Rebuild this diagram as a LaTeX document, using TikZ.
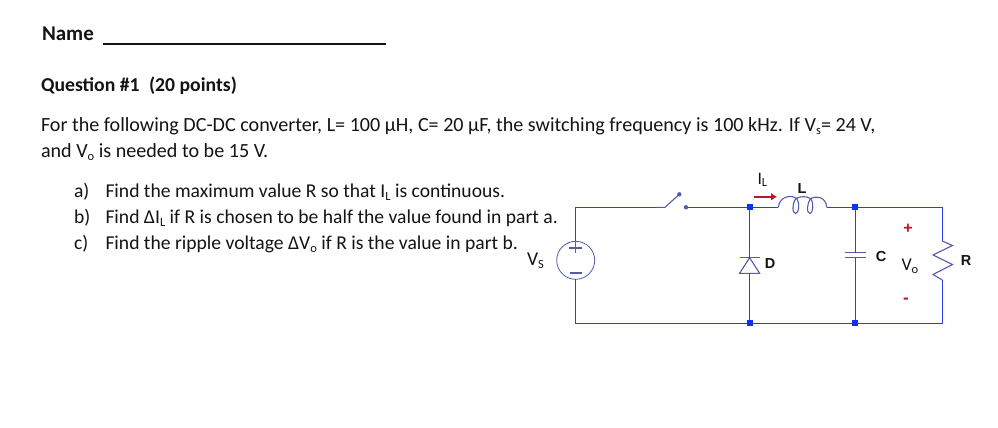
\documentclass[tikz,border=0pt]{standalone}
\usepackage{fontspec}
\setmainfont{Carlito}
\setsansfont{Liberation Sans}
\usetikzlibrary{arrows.meta}
\definecolor{wire}{RGB}{40,60,235}
\definecolor{comp}{RGB}{85,90,175}
\definecolor{jn}{RGB}{10,50,245}
\definecolor{redc}{RGB}{190,20,40}
\definecolor{txt}{RGB}{20,20,20}
\newcommand{\lsub}[1]{\raisebox{-0.17em}{\fontsize{12.5}{13}\selectfont #1}}
\tikzset{
  x=1pt,y=-1pt,
  every node/.style={inner sep=0pt,outer sep=0pt,text=txt},
  para/.style={anchor=base west,font=\fontsize{20.1}{22}\selectfont},
  parb/.style={anchor=base west,font=\fontsize{19.6}{22}\selectfont},
  parab/.style={anchor=base west,font=\fontsize{19.7}{22}\selectfont\bfseries},
  wireline/.style={draw=wire,line width=1.2pt},
  compline/.style={draw=comp,line width=1.1pt},
  junction/.style={fill=jn,minimum size=6pt,shape=rectangle},
  cmark/.style={font=\fontsize{14.5}{15}\selectfont\sffamily\bfseries,anchor=center},
}
\begin{document}
\begin{tikzpicture}
\useasboundingbox (0,0) rectangle (998,428);
\fill[white] (0,0) rectangle (998,428);
% text
\node[parab,font=\fontsize{21}{22}\selectfont\bfseries] (name) at (42,41) {Name};
\node[parab] (nameline) at (103,41) {\rule[-4pt]{283pt}{2pt}};
\node[parab] (q) at (41,92) {Question \#1\hspace{5pt} (20 points)};
\node[para] (p1) at (41,131) {For the following DC-DC converter, L= 100 µH, C= 20 µF, the switching frequency is 100 kHz. If V\lsub{s}= 24 V,};
\node[para] (p2) at (41,157) {and V\lsub{o} is needed to be 15 V.};
\node[parb] (la) at (74,197) {a)};
\node[parb] (ta) at (105.5,197) {Find the maximum value R so that I\lsub{L} is continuous.};
\node[parb] (lb) at (74,223) {b)};
\node[parb] (tb) at (105.5,223) {Find ΔI\lsub{L} if R is chosen to be half the value found in part a.};
\node[parb] (lc) at (74,249) {c)};
\node[parb] (tc) at (105.5,249) {Find the ripple voltage ΔV\lsub{o} if R is the value in part b.};
\node[parb] (vs) at (527,265) {V\lsub{S}};
% junctions
\node[junction] (jt) at (749.6,207.3) {};
\node[junction] (jb) at (749.6,323.3) {};
\node[junction] (kt) at (855.3,207.3) {};
\node[junction] (kb) at (855.3,323.3) {};
% anchors
\coordinate (tl) at (575.7,207.3);
\coordinate (bl) at (575.7,323.3);
\coordinate (tr) at (942.3,207.3);
\coordinate (br) at (942.3,323.3);
\coordinate (swa) at (665,207.3);
\coordinate (swb) at (686,207.3);
\coordinate (swc) at (679.3,194.3);
\coordinate (la1) at (778.3,207.3);
\coordinate (la2) at (826.7,207.3);
\coordinate (r1) at (942.3,241);
\coordinate (r2) at (942.3,280);
% source
\node[circle,draw=comp,line width=0.8pt,minimum size=38pt,fill=white] (src) at (575.7,260.3) {};
% wires
\draw[wireline] (src.north) -- (tl) -- (swa);
\draw[wireline] (swb) -- (jt) -- (la1);
\draw[wireline] (la2) -- (kt) -- (tr) -- (r1);
\draw[wireline] (r2) -- (br) -- (kb) -- (jb) -- (bl) -- (src.south);
\draw[wireline] (jt) -- (749.6,247) (749.6,283) -- (jb);
\draw[wireline] (kt) -- (855.3,237) (855.3,272) -- (kb);
% source marks
\draw[compline] (569,248) -- (582,248) (575.7,241.7) -- (575.7,253);
\draw[compline,line width=1.4pt] (570,273) -- (582,273);
% switch
\draw[compline] (657,207.3) -- (665,207.3) -- (679.3,194.3);
\fill[comp] (swc) circle (2.2pt) (swb) circle (2.2pt);
% diode
\draw[compline] (739.6,257.7) -- (759.6,257.7);
\draw[compline] (749.6,257.7) -- (739.6,273.3) -- (759.6,273.3) -- cycle;
\draw[draw=black!70,line width=1pt] (749.6,247) -- (749.6,257.7) (749.6,273.3) -- (749.6,283);
% inductor
\draw[compline] (la1) .. controls (779.5,196) and (792,194) .. (797,199)
  .. controls (800,203) and (799,213.5) .. (795.5,213.5)
  .. controls (792,213.5) and (792,203) .. (796,198.5)
  .. controls (800,196) and (808,196) .. (811,199)
  .. controls (814,203) and (813,213.5) .. (810,213.5)
  .. controls (806.5,213.5) and (806.5,203) .. (811,198.5)
  .. controls (815,196) and (826,196) .. (la2);
% capacitor
\draw[compline] (845,252.7) -- (865.5,252.7) (845,257.7) -- (865.5,257.7);
\draw[draw=black!70,line width=1pt] (855.3,237) -- (855.3,252.7) (855.3,257.7) -- (855.3,272);
% resistor
\draw[compline] (r1) -- (952.5,245.5) -- (933,255) -- (952.5,264.5) -- (933,274.5) -- (r2);
% current arrow
\draw[draw=redc,line width=1.6pt,-{Latex[length=6pt,width=8pt]}] (754,196.8) -- (777,196.8);
% labels
\node[para,font=\fontsize{17.5}{18}\selectfont] (il) at (757.5,184) {I\lsub{L}};
\node[cmark] (lL) at (802,189) {L};
\node[cmark] (lD) at (770,264) {D};
\node[cmark] (lC) at (881,257) {C};
\node[cmark] (lR) at (966,261) {R};
\node[para,font=\fontsize{18}{20}\selectfont] (vo) at (901.5,270) {V\lsub{o}};
\node[cmark,text=redc,font=\fontsize{16}{16}\selectfont\sffamily\bfseries] (plus) at (908,229) {+};
\node[cmark,text=redc,font=\fontsize{17}{16}\selectfont\sffamily\bfseries] (minus) at (906,301) {-};
\end{tikzpicture}
\end{document}
